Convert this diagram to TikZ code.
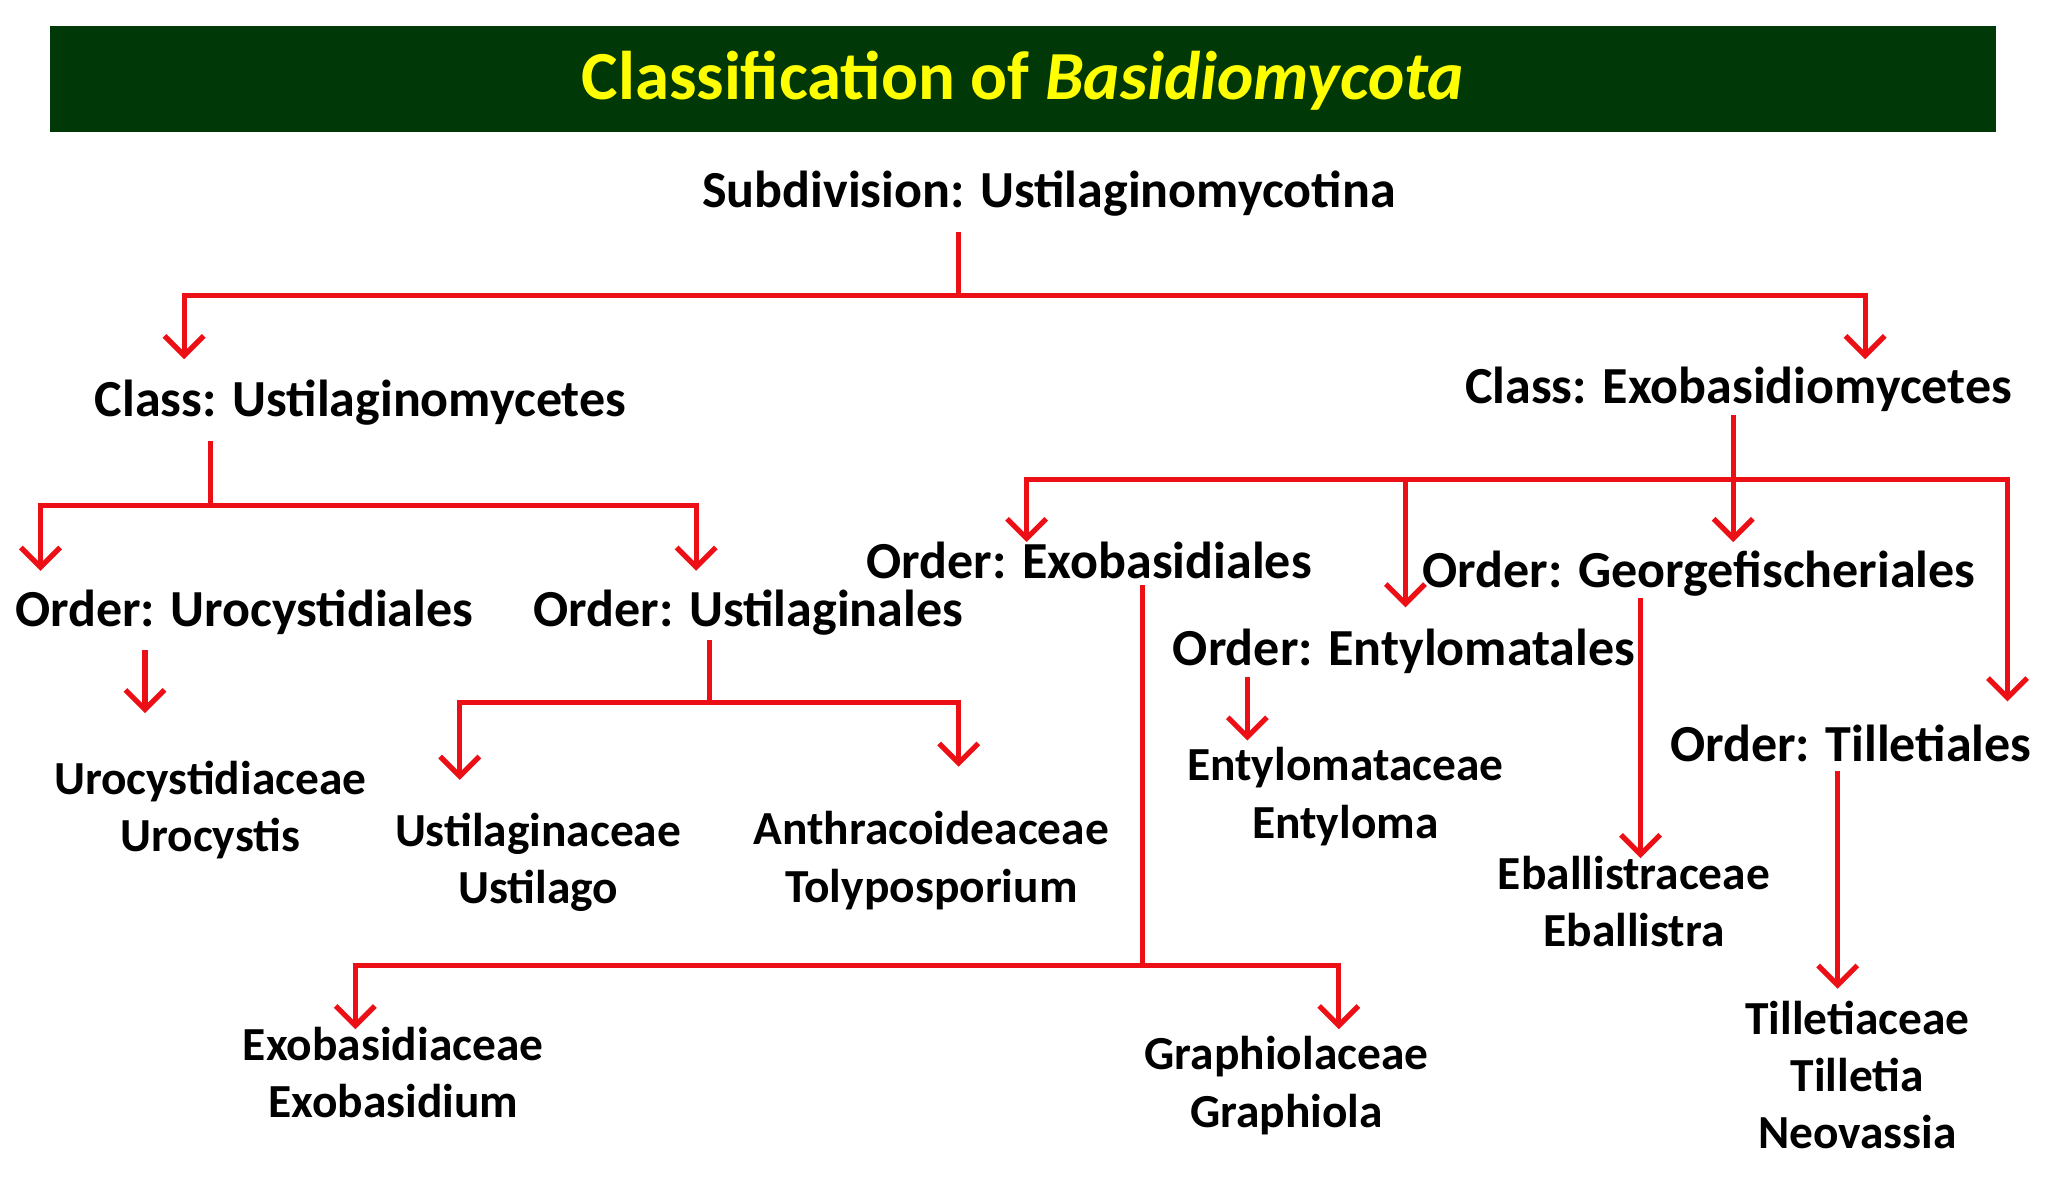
\documentclass[tikz,border=0pt]{standalone}
\usepackage{fontspec}
\setmainfont{Carlito}
\usetikzlibrary{arrows.meta}
\definecolor{bar}{RGB}{0,56,8}
\definecolor{ttl}{RGB}{255,255,0}
\definecolor{lnk}{RGB}{236,16,22}
\tikzset{
  lbl/.style={font=\fontsize{31}{37.5}\selectfont\bfseries, align=center, inner sep=0pt},
  head/.style={font=\fontsize{34}{40}\selectfont\bfseries, align=center, inner sep=0pt},
  ln/.style={draw=lnk, line width=0.12cm},
  arr/.style={ln, -{Straight Barb[length=0.45cm,width=0.9cm,line width=0.12cm]}}
}
\begin{document}
\begin{tikzpicture}[x=0.03cm,y=-0.03cm]
\useasboundingbox[fill=white] (0,0) rectangle (1568,916);
\fill[bar] (38,20) rectangle (1528,101);
\node[lbl, text=ttl, font=\fontsize{45}{50}\selectfont\bfseries] (title) at (783,62) {Classification of \textit{Basidiomycota}};
\node[head] (sub) at (803,148) {Subdivision: Ustilaginomycotina};
\node[head] (cu) at (276,308) {Class: Ustilaginomycetes};
\node[head] (ce) at (1331,298) {Class: Exobasidiomycetes};
\node[head] (ouro) at (187,469) {Order: Urocystidiales};
\node[head] (oust) at (573,469) {Order: Ustilaginales};
\node[lbl] (uro) at (161,620) {Urocystidiaceae\\Urocystis};
\node[lbl] (ustc) at (412,660) {Ustilaginaceae\\Ustilago};
\node[lbl] (anth) at (713,659) {Anthracoideaceae\\Tolyposporium};
\node[head] (oexo) at (834,429) {Order: Exobasidiales};
\node[head] (ogeo) at (1301,439) {Order: Georgefischeriales};
\node[head] (oent) at (1075,499) {Order: Entylomatales};
\node[head] (otil) at (1417,569) {Order: Tilletiales};
\node[lbl] (exo) at (301,821) {Exobasidiaceae\\Exobasidium};
\node[lbl] (gra) at (985,831) {Graphiolaceae\\Graphiola};
\node[lbl] (ent) at (1030,610) {Entylomataceae\\Entyloma};
\node[lbl] (eba) at (1251,690) {Eballistraceae\\Eballistra};
\node[lbl] (til) at (1422,823) {Tilletiaceae\\Tilletia\\Neovassia};
% subdivision
\draw[ln] (734,178) -- (734,226);
\draw[ln] (141,226) -- (1428,226);
\draw[arr] (141,224) -- (141,275);
\draw[arr] (1428,224) -- (1428,275);
% Ustilaginomycetes
\draw[ln] (161,338) -- (161,387);
\draw[ln] (31,387) -- (533,387);
\draw[arr] (31,385) -- (31,437);
\draw[arr] (533,385) -- (533,437);
\draw[arr] (111,498) -- (111,546);
\draw[ln] (543,490) -- (543,538);
\draw[ln] (352,538) -- (734,538);
\draw[arr] (352,536) -- (352,597);
\draw[arr] (734,536) -- (734,587);
% Exobasidiomycetes
\draw[arr] (1327,318) -- (1327,415);
\draw[ln] (786,367) -- (1537,367);
\draw[arr] (786,365) -- (786,415);
\draw[arr] (1076,365) -- (1076,465);
\draw[arr] (1537,365) -- (1537,537);
\draw[ln] (875,448) -- (875,739);
\draw[ln] (272,739) -- (1025,739);
\draw[arr] (272,737) -- (272,788);
\draw[arr] (1025,737) -- (1025,788);
\draw[arr] (955,518) -- (955,567);
\draw[arr] (1256,458) -- (1256,657);
\draw[arr] (1407,590) -- (1407,757);
\end{tikzpicture}
\end{document}
